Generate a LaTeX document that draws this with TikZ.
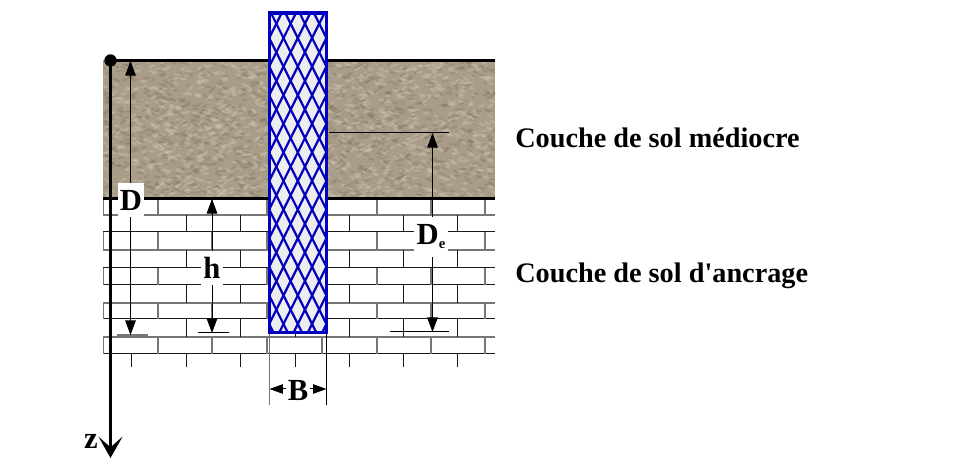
\documentclass[tikz,border=0pt]{standalone}
\usepackage{fontspec}
\setmainfont{Liberation Serif}
\newfontfamily\plainserif{Liberation Serif}
\usetikzlibrary{arrows.meta}
\definecolor{soilbase}{HTML}{A99D89}
\definecolor{soillight}{HTML}{CFC6B2}
\definecolor{soildark}{HTML}{7F7461}
\definecolor{pileblue}{HTML}{0000BE}
\definecolor{brickgray}{HTML}{777777}
\tikzset{
  ground/.style={line width=2.6pt,black},
  brickblack/.style={line width=.75pt,black!90},
  brickgrey/.style={line width=.9pt,brickgray},
  dim/.style={line width=.75pt,black,{Triangle[length=11pt,width=8pt]}-{Triangle[length=11pt,width=8pt]}},
  tickline/.style={line width=.75pt,black},
  lab/.style={font=\plainserif\bfseries\fontsize{21.2}{23}\selectfont,anchor=base west,inner sep=0pt},
  dimlab/.style={font=\bfseries\fontsize{23}{24}\selectfont,fill=white,inner sep=1.5pt},
  mesh/.style={line width=1.65pt,pileblue}
}
\begin{document}
\begin{tikzpicture}[x=0.75pt,y=-0.75pt]
\useasboundingbox (0,0) rectangle (960,466);
% soil layer
\fill[soilbase] (103,60) rectangle (495,198);
\begin{scope}
\clip (103,60) rectangle (495,198);
\pgfmathsetseed{7}
\foreach \i in {1,...,2400}{
  \pgfmathsetmacro\xa{103+392*rnd}
  \pgfmathsetmacro\ya{60+138*rnd}
  \pgfmathsetmacro\ra{rand*40}
  \ifodd\i\relax
    \fill[soillight,opacity=.38,rotate around={\ra:(\xa,\ya)}] (\xa,\ya) ellipse (3.4 and 1.4);
  \else
    \fill[soildark,opacity=.32,rotate around={\ra:(\xa,\ya+1.8)}] (\xa,\ya+1.8) ellipse (3.4 and 1.2);
  \fi
}
\end{scope}
% bricks: horizontal courses
\foreach \y/\s in {215/brickgrey,232/brickblack,250/brickgrey,268/brickblack,285/brickblack,303/brickgrey,319/brickblack,337/brickgrey,354/brickblack}{
  \draw[\s] (103,\y) -- (495,\y);
}
% bricks: courses with odd joints
\foreach \a/\b in {198/215,232/250,268/285,303/319,337/354}{
  \foreach \x in {103.5,158,212,267,322,377,431,485}{
    \draw[brickgrey] (\x,\a) -- (\x,\b);
  }
}
% bricks: courses with even joints
\foreach \a/\b in {215/232,250/268,285/303,319/337,354/367}{
  \foreach \x in {186.5,240.5,295,349,403,457}{
    \draw[brickblack] (\x,\a) -- (\x,\b);
  }
}
\draw[brickblack] (131.5,354) -- (131.5,367);
% ground lines
\draw[ground] (108,60.5) -- (495,60.5);
\draw[ground] (103,198.5) -- (495,198.5);
% pile
\fill[black!7] (269.3,13) rectangle (326.7,332.5);
\begin{scope}
\clip (269.3,13) rectangle (326.7,332.5);
\foreach \k in {-40,...,30}{
  \draw[mesh] ({283.5+14.3*\k-20},{38-40}) -- ({283.5+14.3*\k+180},{38+360});
  \draw[mesh] ({283.5+14.3*\k+20},{38-40}) -- ({283.5+14.3*\k-180},{38+360});
}
\end{scope}
\node[draw=pileblue,line width=2.4pt,outer sep=0pt,minimum width=43pt,minimum height=239.6pt,inner sep=0pt,anchor=north west] (pilebox) at (269.3,13) {};
% axis
\coordinate (origin) at (110.5,60.5);
\coordinate (zend) at (110.5,458);
\fill[black] (origin) circle (6.2);
\draw[line width=2.2pt,-{Stealth[length=16pt,width=18pt,inset=8pt]}] (origin) -- (zend);
\node[font=\bfseries\fontsize{23}{24}\selectfont,inner sep=0pt] (zlab) at (91,441) {z};
% D
\coordinate (Dtop) at (130.5,61);
\coordinate (Dbot) at (130.5,335);
\coordinate (Dt1) at (117,335);
\coordinate (Dt2) at (148,335);
\draw[line width=1pt,brickgray] (Dt1) -- (Dt2);
\draw[dim] (Dtop) -- (Dbot);
\node[dimlab,minimum width=16.5pt,minimum height=25pt] (Dlab) at (131,200) {D};
% h
\coordinate (htop) at (212,199);
\coordinate (hbot) at (212,333);
\coordinate (ht1) at (198,333);
\coordinate (ht2) at (229,333);
\draw[tickline] (ht1) -- (ht2);
\draw[dim] (htop) -- (hbot);
\node[dimlab,minimum width=14pt,minimum height=26pt] (hlab) at (212,268) {h};
% De
\coordinate (Detop) at (432.5,133);
\coordinate (Debot) at (432.5,332);
\coordinate (Det1) at (329,133);
\coordinate (Det2) at (449,133);
\coordinate (Det3) at (390,332);
\coordinate (Det4) at (449,332);
\draw[tickline] (Det1) -- (Det2);
\draw[tickline] (Det3) -- (Det4);
\draw[dim] (Detop) -- (Debot);
\node[dimlab,minimum width=25.5pt,minimum height=30pt] (Delab) at (431,237) {D\raisebox{-3pt}{\fontsize{11}{12}\selectfont e}};
% B
\coordinate (Bl) at (269.5,334);
\coordinate (Br) at (326.5,334);
\coordinate (Bl2) at (269.5,405);
\coordinate (Br2) at (326.5,405);
\draw[line width=.9pt,brickgray] (Bl) -- (Bl2);
\draw[tickline] (Br) -- (Br2);
\coordinate (Ba) at (269.5,389);
\coordinate (Bb) at (326.5,389);
\draw[line width=.75pt,{Triangle[length=10pt,width=7pt]}-{Triangle[length=10pt,width=7pt]}] (Ba) -- (Bb);
\node[dimlab] (Blab) at (298,391) {B};
% layer names
\node[lab] (l1) at (515,147.5) {Couche de sol médiocre};
\node[lab] (l2) at (515,282.5) {Couche de sol d'ancrage};
\end{tikzpicture}
\end{document}
